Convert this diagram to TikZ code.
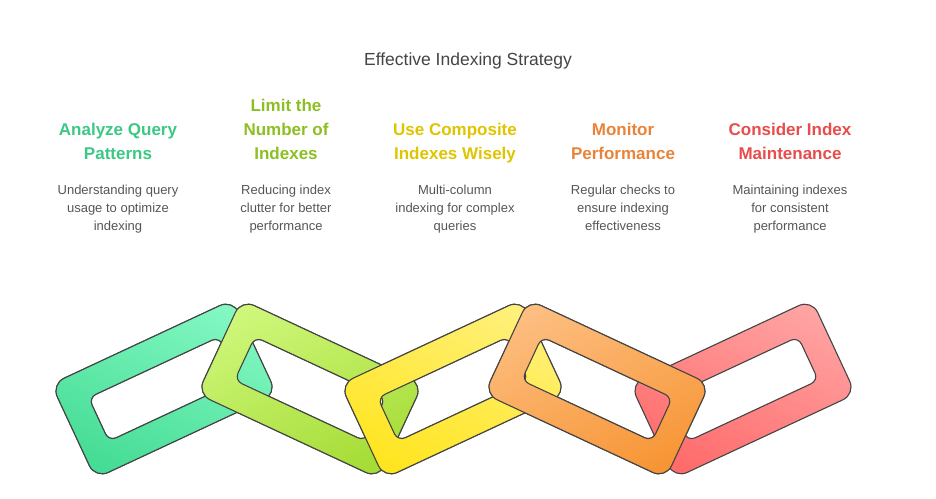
\documentclass[tikz,border=0pt]{standalone}
\usepackage{fontspec}
\setmainfont{Liberation Sans}
\definecolor{ink}{HTML}{444444}
\definecolor{txt}{HTML}{555555}
\definecolor{cA}{HTML}{3CC884}\definecolor{cB}{HTML}{8CBF22}\definecolor{cC}{HTML}{DDC500}\definecolor{cD}{HTML}{E8843A}\definecolor{cE}{HTML}{E84C4C}
\definecolor{tA}{HTML}{82F8C2}\definecolor{bA}{HTML}{45DC95}
\definecolor{tB}{HTML}{CEF77A}\definecolor{bB}{HTML}{A5DC35}
\definecolor{tC}{HTML}{FFF07A}\definecolor{bC}{HTML}{FFE51F}
\definecolor{tD}{HTML}{FDBE80}\definecolor{bD}{HTML}{F79535}
\definecolor{tE}{HTML}{FFA3A3}\definecolor{bE}{HTML}{FF6B6B}
\newcommand\mylink[4]{%
\begin{scope}[shift={(#1,389)},rotate=#2]
\path[draw=ink,line width=1.1pt,even odd rule,top color=#3,bottom color=#4,shading angle=-#2]
 (-100,-52) [rounded corners=14pt] rectangle (100,52)
 (-72,-24) [rounded corners=8pt] rectangle (72,24);
\end{scope}}
% #5 = centre x of the next link
\newcommand\mypatch[5]{%
\begin{scope}
\begin{scope}[shift={(#5,389)},rotate=-#2]
\clip (-73,8) rectangle (-25,70);
\end{scope}
\mylink{#1}{#2}{#3}{#4}
\end{scope}}
\begin{document}
\begin{tikzpicture}[x=1pt,y=-1pt,
 head/.style={font=\bfseries\fontsize{17}{24}\selectfont,align=center,anchor=north},
 body/.style={font=\fontsize{13}{18}\selectfont,text=txt,align=center,anchor=north}]
\useasboundingbox (0,0) rectangle (936,498);
\node[font=\fontsize{17.5}{20}\selectfont,text=ink] (title) at (468,61) {Effective Indexing Strategy};
\node[head,text=cA] (h1) at (118,120) {Analyze Query\\Patterns};
\node[head,text=cB] (h2) at (286,96) {Limit the\\Number of\\Indexes};
\node[head,text=cC] (h3) at (455,120) {Use Composite\\Indexes Wisely};
\node[head,text=cD] (h4) at (623,120) {Monitor\\Performance};
\node[head,text=cE] (h5) at (790,120) {Consider Index\\Maintenance};
\node[body] (b1) at (118,182) {Understanding query\\usage to optimize\\indexing};
\node[body] (b2) at (286,182) {Reducing index\\clutter for better\\performance};
\node[body] (b3) at (455,182) {Multi-column\\indexing for complex\\queries};
\node[body] (b4) at (623,182) {Regular checks to\\ensure indexing\\effectiveness};
\node[body] (b5) at (790,182) {Maintaining indexes\\for consistent\\performance};
\mylink{164}{25}{tA}{bA}
\mylink{310}{-25}{tB}{bB}
\mylink{453}{25}{tC}{bC}
\mylink{597}{-25}{tD}{bD}
\mylink{743}{25}{tE}{bE}
\mypatch{164}{25}{tA}{bA}{310}
\mypatch{310}{-25}{tB}{bB}{453}
\mypatch{453}{25}{tC}{bC}{597}
\mypatch{597}{-25}{tD}{bD}{743}
\end{tikzpicture}
\end{document}
